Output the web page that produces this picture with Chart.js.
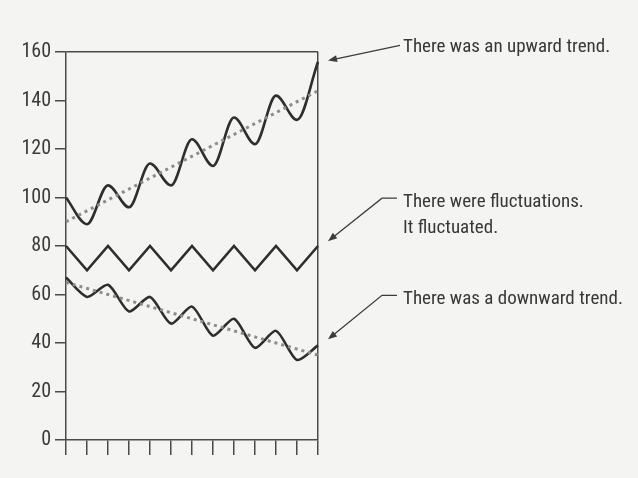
<!DOCTYPE html>
<html>
<head>
<meta charset="utf-8">
<script src="https://cdn.jsdelivr.net/npm/chart.js@4/dist/chart.umd.min.js"></script>
<style>
  html, body { margin: 0; padding: 0; background: #f4f4f3; }
  #wrap { width: 638px; height: 478px; position: relative; }
  canvas { display: block; }
</style>
</head>
<body>
<div id="wrap"><canvas id="c" width="638" height="478"></canvas></div>
<script>
// ---- data ----
const periods = ['1','2','3','4','5','6','7','8','9','10','11','12','13'];
const upward = [100, 89, 105, 96, 114, 105, 124, 113, 133, 122, 142, 132, 156];
const upwardTrend = [90, null, null, null, null, null, null, null, null, null, null, null, 144];
const fluctuating = [80, 70, 80, 70, 80, 70, 80, 70, 80, 70, 80, 70, 80];
const downward = [67, 59, 64, 53, 59, 48, 55, 43, 50, 38, 45, 33, 39];
const downwardTrend = [65, null, null, null, null, null, null, null, null, null, null, null, 35];
const yTicks = [0, 20, 40, 60, 80, 100, 120, 140, 160];
const noteTexts = [
  ['There was an upward trend.'],
  ['There were fluctuations.', 'It fluctuated.'],
  ['There was a downward trend.']
];
const noteTargets = [156.5, 82, 41.5];

// ---- styling ----
const FONT = '"Liberation Sans Narrow", "Arial Narrow", "Roboto Condensed", "DejaVu Sans Condensed", "Liberation Sans", sans-serif';
const AX = '#4a4a4a';
const LINE = '#2e2e2e';
const DOT = '#8c8c8c';

const annotate = {
  id: 'annotate',
  afterDraw(chart) {
    const { ctx, chartArea, scales } = chart;
    const y = scales.y;
    ctx.save();
    ctx.strokeStyle = '#3c3c3c';
    ctx.lineWidth = 1.3;
    const shapes = [
      { pts: [[72, -15]], text: [[75, -8]] },
      { pts: [[69, -43], [54, -43]], text: [[75, -34], [75, -8]] },
      { pts: [[69, -44], [54, -44]], text: [[75, -35]] }
    ];
    noteTexts.forEach((lines, i) => {
      const tx = chartArea.right + 10;
      const ty = y.getPixelForValue(noteTargets[i]);
      const s = shapes[i];
      ctx.beginPath();
      ctx.moveTo(tx + s.pts[0][0], ty + s.pts[0][1]);
      for (let k = 1; k < s.pts.length; k++) ctx.lineTo(tx + s.pts[k][0], ty + s.pts[k][1]);
      const last = s.pts[s.pts.length - 1];
      const dx = -last[0], dy = -last[1];
      const len = Math.hypot(dx, dy);
      const ux = dx / len, uy = dy / len;
      ctx.lineTo(tx - ux * 6, ty - uy * 6);
      ctx.stroke();
      const hl = 9, hw = 3.5;
      ctx.fillStyle = '#3c3c3c';
      ctx.beginPath();
      ctx.moveTo(tx, ty);
      ctx.lineTo(tx - ux * hl - uy * hw, ty - uy * hl + ux * hw);
      ctx.lineTo(tx - ux * hl + uy * hw, ty - uy * hl - ux * hw);
      ctx.closePath();
      ctx.fill();
      ctx.font = '19px ' + FONT;
      ctx.textAlign = 'left';
      ctx.textBaseline = 'alphabetic';
      ctx.fillStyle = '#383838';
      lines.forEach((t, j) => {
        ctx.fillText(t, tx + s.text[j][0], ty + s.text[j][1]);
      });
    });
    ctx.restore();
  }
};

new Chart(document.getElementById('c'), {
  type: 'line',
  data: {
    labels: periods,
    datasets: [
      { data: upwardTrend, borderColor: DOT, borderWidth: 3, borderDash: [3, 4], spanGaps: true, pointRadius: 0 },
      { data: downwardTrend, borderColor: DOT, borderWidth: 3, borderDash: [3, 4], spanGaps: true, pointRadius: 0 },
      { data: upward, borderColor: LINE, borderWidth: 2.6, cubicInterpolationMode: 'monotone', pointRadius: 0 },
      { data: fluctuating, borderColor: LINE, borderWidth: 2.6, tension: 0, pointRadius: 0 },
      { data: downward, borderColor: LINE, borderWidth: 2.6, tension: 0.25, pointRadius: 0 }
    ]
  },
  options: {
    responsive: false,
    animation: false,
    devicePixelRatio: 1,
    layout: { padding: { top: 52, right: 320, left: 0, bottom: 0 } },
    plugins: { legend: { display: false }, tooltip: { enabled: false } },
    scales: {
      x: {
        type: 'category',
        offset: false,
        afterFit: s => { s.height = 38; },
        ticks: { display: false },
        grid: {
          drawOnChartArea: true,
          color: ctx => ctx.index === periods.length - 1 ? AX : 'rgba(0,0,0,0)',
          lineWidth: 1.5,
          tickLength: 15,
          tickColor: AX,
          tickWidth: 1.5
        },
        border: { color: AX, width: 1.5 }
      },
      y: {
        min: 0,
        max: 160,
        afterBuildTicks: s => { s.ticks = yTicks.map(v => ({ value: v })); },
        afterFit: s => { s.width = 66; },
        ticks: { padding: 4, color: '#3a3a3a', font: { family: FONT, size: 20 } },
        grid: {
          drawOnChartArea: true,
          color: ctx => (ctx.tick && ctx.tick.value === 160) ? AX : 'rgba(0,0,0,0)',
          lineWidth: 1.5,
          tickLength: 11,
          tickColor: AX,
          tickWidth: 1.5
        },
        border: { color: AX, width: 1.5 }
      }
    }
  },
  plugins: [annotate]
});
</script>
</body>
</html>
